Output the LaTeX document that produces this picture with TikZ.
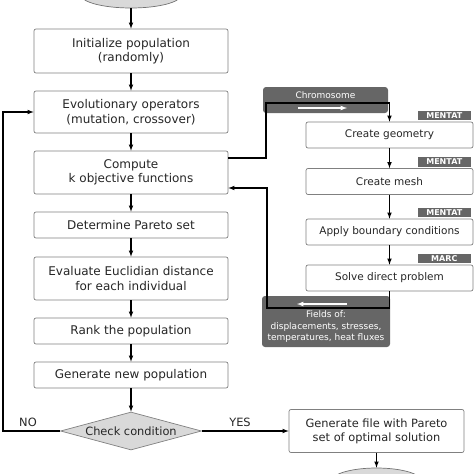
\documentclass[tikz,border=0pt]{standalone}
\usepackage{fontspec}
\setmainfont{DejaVu Sans}
\usetikzlibrary{arrows,positioning,shapes.geometric}
\newcommand\mainfnt{\fontsize{12}{14.5}\selectfont}
\newcommand\midfnt{\fontsize{11.4}{14}\selectfont}
\newcommand\stepfnt{\fontsize{10.5}{12}\selectfont}
\newcommand\smallfnt{\fontsize{9}{11.5}\selectfont}
\newcommand\tagfnt{\fontsize{8}{9}\selectfont\bfseries}

\begin{document}
\begin{tikzpicture}[x=1pt,y=-1pt,>=latex,line width=1.1pt,
 box/.style={draw=black!50,line width=0.7pt,rounded corners=2pt,fill=white,minimum width=194pt,align=center,inner sep=2pt,font=\mainfnt,text=black!85},
 stepbox/.style={box,minimum width=167pt,minimum height=26pt,font=\stepfnt},
 term/.style={ellipse,draw=black!55,line width=0.7pt,fill=black!15,minimum height=26pt},
 check/.style={diamond,draw=black!50,line width=0.7pt,fill=black!15,aspect=3.7,minimum width=141pt,minimum height=38pt,inner sep=0pt,font=\midfnt,text=black!85},
 dark/.style={rounded corners=3pt,fill=black!60},
 tag/.style={fill=black!60,text=white,minimum width=53pt,minimum height=9.5pt,inner sep=0pt,font=\tagfnt},
 warrow/.style={->,white,line width=1.2pt},
 flag/.style={font=\midfnt,text=black!85}]
 \useasboundingbox (0,0) rectangle (474,474);

 \node[term,minimum width=100pt] (start) at (131,-5) {};
 \node[box,minimum height=44pt] (init) at (131,51) {Initialize population\\(randomly)};
 \node[box,minimum height=42pt] (evol) at (131,112) {Evolutionary operators\\(mutation, crossover)};
 \node[box,minimum height=43pt] (comp) at (131,172.5) {Compute\\k objective functions};
 \node[box,minimum height=26pt] (pareto) at (131,225) {Determine Pareto set};
 \node[box,minimum height=43pt] (eval) at (131,278.5) {Evaluate Euclidian distance\\for each individual};
 \node[box,minimum height=26pt] (rank) at (131,331) {Rank the population};
 \node[box,minimum height=26pt] (newpop) at (131,375) {Generate new population};
 \node[check] (check) at (131,431) {Check condition};
 \node[box,minimum width=175pt,minimum height=43pt,font=\midfnt] (result) at (376.5,431) {Generate file with Pareto\\set of optimal solution};
 \node[term,minimum width=90pt] (stop) at (376.5,481) {};
 \node[flag] (no) at (28,422) {NO};
 \node[flag] (yes) at (240,422) {YES};

 \node[dark,minimum width=125pt,minimum height=26pt,label={[anchor=north,text=white,font=\smallfnt,yshift=-1pt]north:Chromosome}] (chrom) at (325.5,100) {};
 \node[dark,minimum width=128pt,minimum height=51pt,label={[anchor=south,align=center,text=white,font=\smallfnt,yshift=1pt]south:{Fields of:\\displacements, stresses,\\temperatures, heat fluxes}}] (fields) at (326,321.5) {};

 \node[stepbox] (geom) at (389.5,135) {Create geometry};
 \node[stepbox] (mesh) at (389.5,181.5) {Create mesh};
 \node[stepbox] (bc) at (389.5,232) {Apply boundary conditions};
 \node[stepbox] (solve) at (389.5,278) {Solve direct problem};
 \node[tag,above left=1pt and 2pt of geom.north east] (tag1) {MENTAT};
 \node[tag,above left=1pt and 2pt of mesh.north east] (tag2) {MENTAT};
 \node[tag,above left=1pt and 2pt of bc.north east] (tag3) {MENTAT};
 \node[tag,above left=1pt and 2pt of solve.north east] (tag4) {MARC};

 \coordinate (ca) at (298,108);
 \coordinate (cb) at (347,108);
 \coordinate (fa) at (347,304);
 \coordinate (fb) at (297,304);
 \draw[warrow] (ca) -- (cb);
 \draw[warrow] (fa) -- (fb);

 \draw[->] (start) -- (init);
 \draw[->] (init) -- (evol);
 \draw[->] (evol) -- (comp);
 \draw[->] (comp) -- (pareto);
 \draw[->] (pareto) -- (eval);
 \draw[->] (eval) -- (rank);
 \draw[->] (rank) -- (newpop);
 \draw[->] (newpop) -- (check);
 \draw[->] (check) -- (result);
 \draw[->] (result) -- (stop);

 \coordinate (back) at (3,431);
 \draw[->] (check.west) -- (back) |- (evol.west);

 \coordinate (up) at (266,103);
 \coordinate (down) at (267,308);
 \draw[->] ([yshift=14.5pt]comp.east) -| (up) -| (geom.north);
 \draw[->] (geom) -- (mesh);
 \draw[->] (mesh) -- (bc);
 \draw[->] (bc) -- (solve);
 \draw[->] (solve.south) |- (down) |- ([yshift=-15.5pt]comp.east);
\end{tikzpicture}
\end{document}
